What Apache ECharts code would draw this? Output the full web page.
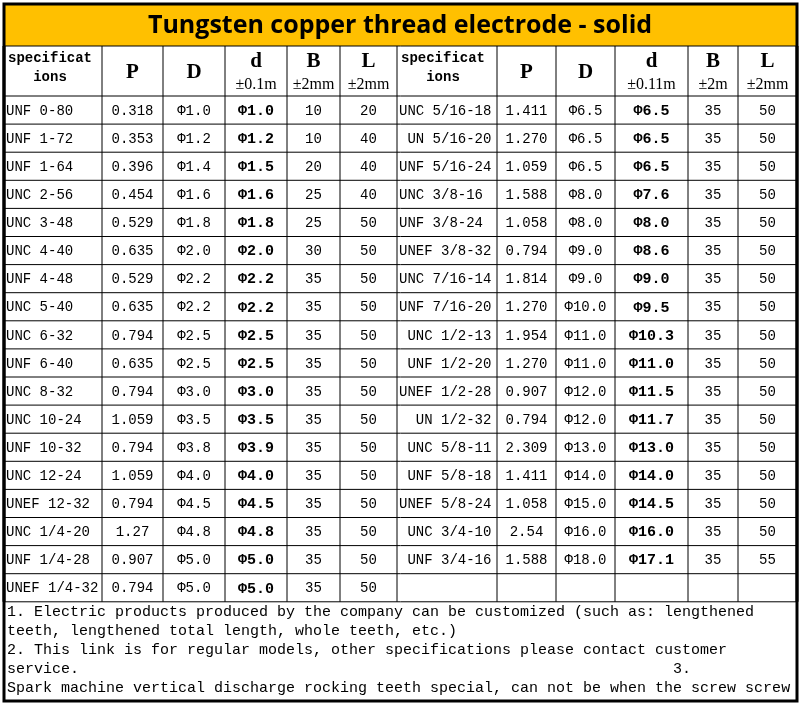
<!DOCTYPE html>
<html><head><meta charset="utf-8">
<script src="https://cdn.jsdelivr.net/npm/echarts@6/dist/echarts.min.js"></script>
<style>html,body{margin:0;padding:0;background:#fff}#c{width:802px;height:705px}</style>
</head><body><div id="c"></div>
<script>
var title = 'Tungsten copper thread electrode - solid';
var headA = ['specificat\n   ions', 'P', 'D', 'd', 'B', 'L'];
var subA = ['', '', '', '±0.1m', '±2mm', '±2mm'];
var subB = ['', '', '', '±0.11m', '±2m', '±2mm'];
var specA = ['UNF 0-80','UNF 1-72','UNF 1-64','UNC 2-56','UNC 3-48','UNC 4-40','UNF 4-48','UNC 5-40','UNC 6-32','UNF 6-40','UNC 8-32','UNC 10-24','UNF 10-32','UNC 12-24','UNEF 12-32','UNC 1/4-20','UNF 1/4-28','UNEF 1/4-32'];
var pA = ['0.318','0.353','0.396','0.454','0.529','0.635','0.529','0.635','0.794','0.635','0.794','1.059','0.794','1.059','0.794','1.27','0.907','0.794'];
var bigDA = ['1.0','1.2','1.4','1.6','1.8','2.0','2.2','2.2','2.5','2.5','3.0','3.5','3.8','4.0','4.5','4.8','5.0','5.0'];
var smallDA = ['1.0','1.2','1.5','1.6','1.8','2.0','2.2','2.2','2.5','2.5','3.0','3.5','3.9','4.0','4.5','4.8','5.0','5.0'];
var bA = [10,10,20,25,25,30,35,35,35,35,35,35,35,35,35,35,35,35];
var lA = [20,40,40,40,50,50,50,50,50,50,50,50,50,50,50,50,50,50];
var specB = ['UNC 5/16-18',' UN 5/16-20','UNF 5/16-24','UNC 3/8-16','UNF 3/8-24','UNEF 3/8-32','UNC 7/16-14','UNF 7/16-20',' UNC 1/2-13',' UNF 1/2-20','UNEF 1/2-28','  UN 1/2-32',' UNC 5/8-11',' UNF 5/8-18','UNEF 5/8-24',' UNC 3/4-10',' UNF 3/4-16'];
var pB = ['1.411','1.270','1.059','1.588','1.058','0.794','1.814','1.270','1.954','1.270','0.907','0.794','2.309','1.411','1.058','2.54','1.588'];
var bigDB = ['6.5','6.5','6.5','8.0','8.0','9.0','9.0','10.0','11.0','11.0','12.0','12.0','13.0','14.0','15.0','16.0','18.0'];
var smallDB = ['6.5','6.5','6.5','7.6','8.0','8.6','9.0','9.5','10.3','11.0','11.5','11.7','13.0','14.0','14.5','16.0','17.1'];
var bB = [35,35,35,35,35,35,35,35,35,35,35,35,35,35,35,35,35];
var lB = [50,50,50,50,50,50,50,50,50,50,50,50,50,50,50,50,55];
var notes = ['1. Electric products produced by the company can be customized (such as: lengthened',
  'teeth, lengthened total length, whole teeth, etc.)',
  '2. This link is for regular models, other specifications please contact customer',
  'service.                                                                  3.',
  'Spark machine vertical discharge rocking teeth special, can not be when the screw screw'];

var colX = [4,102,163,225,287,340,397,497,556,615,688,738,797];
var top0 = 46, headH = 50, rowH = 28.1, nRows = 18;
var bodyTop = top0 + headH, bodyBot = bodyTop + nRows * rowH;
var mono = '"Liberation Mono", "DejaVu Sans Mono", monospace';
var serif = '"Liberation Serif", serif';
var els = [];

function txt(x, y, s, font, align, size, bold, lh) {
  var st = {x: x, y: y, text: s, align: align || 'center', verticalAlign: 'middle',
    font: (bold ? 'bold ' : '') + size + 'px ' + font, fill: '#000'};
  if (lh) st.lineHeight = lh;
  els.push({type: 'text', style: st});
}
function line(x1, y1, x2, y2, w) {
  els.push({type: 'line', shape: {x1: x1, y1: y1, x2: x2, y2: y2}, style: {stroke: '#000', lineWidth: w || 1}});
}

els.push({type: 'rect', shape: {x: 4, y: 5, width: 793, height: 41}, style: {fill: '#FFC000'}});
txt(400, 26, title, '"Open Sans", "DejaVu Sans", sans-serif', 'center', 25, true);

function drawHalf(off, sub, spec, p, bigD, smallD, b, l) {
  var cx = function (i) { return (colX[off + i] + colX[off + i + 1]) / 2; };
  txt(colX[off] + 4, top0 + 22, headA[0], mono, 'left', 14, true, 19);
  txt(cx(1), top0 + 27, 'P', serif, 'center', 21, true);
  txt(cx(2), top0 + 27, 'D', serif, 'center', 21, true);
  for (var k = 3; k < 6; k++) {
    txt(cx(k), top0 + 16, headA[k], serif, 'center', 21, true);
    txt(cx(k), top0 + 39, sub[k], serif, 'center', 16, false);
  }
  for (var r = 0; r < spec.length; r++) {
    var y = bodyTop + rowH * r + rowH / 2 + 1;
    txt(colX[off] + 2, y, spec[r], mono, 'left', 14);
    txt(cx(1), y, p[r], mono, 'center', 14);
    txt(cx(2), y, 'Φ' + bigD[r], mono, 'center', 14);
    txt(cx(3), y, 'Φ' + smallD[r], mono, 'center', 15, true);
    txt(cx(4), y, String(b[r]), mono, 'center', 14);
    txt(cx(5), y, String(l[r]), mono, 'center', 14);
  }
}
drawHalf(0, subA, specA, pA, bigDA, smallDA, bA, lA);
drawHalf(6, subB, specB, pB, bigDB, smallDB, bB, lB);

for (var i = 0; i < colX.length; i++) line(colX[i], top0, colX[i], bodyBot, (i === 0 || i === colX.length - 1) ? 3 : 1);
line(4, top0, 797, top0, 1);
for (var r = 0; r <= nRows; r++) line(4, bodyTop + r * rowH, 797, bodyTop + r * rowH, 1);

for (var n = 0; n < notes.length; n++) txt(7, bodyBot + 10 + n * 19, notes[n], mono, 'left', 15);

els.push({type: 'rect', shape: {x: 4, y: 4, width: 793, height: 697}, style: {fill: null, stroke: '#000', lineWidth: 3}});

var chart = echarts.init(document.getElementById('c'));
chart.setOption({animation: false, graphic: {elements: els}});
</script></body></html>
